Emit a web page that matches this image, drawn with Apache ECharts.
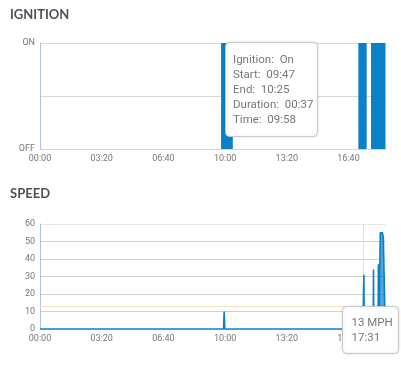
<!DOCTYPE html>
<html>
<head>
<meta charset="utf-8">
<script src="https://cdn.jsdelivr.net/npm/echarts@6/dist/echarts.min.js"></script>
<style>
html,body{margin:0;padding:0;background:#fff;}
#main{width:401px;height:366px;}
</style>
</head>
<body>
<div id="main"></div>
<script>
// ---- data (x values are minutes since 00:00) ----
const xMin = 0;
const xMax = 1120;           // 18:40
const xInterval = 200;       // 03:20 steps
const ignitionStarts = [587, 1032, 1073];
const ignitionEnds   = [625, 1059, 1120];
const ignitionLabels = ['OFF', 'ON'];
const speedTimes  = [0, 595, 597, 599, 1046, 1048, 1049, 1050, 1051, 1080, 1081, 1082, 1096, 1097, 1099, 1101, 1103, 1107, 1110, 1113, 1117, 1119, 1120];
const speedValues = [0, 0,   10,  0,   0,    13,   24,   31,   0,    0,    34,   0,    0,    37,   0,    0,    55,   56,   55,   52,   52,   0,    0];
const speedTicks = [0, 10, 20, 30, 40, 50, 60];
const cursorTime = 1049;
const cursorSpeed = 13;
const ignitionTip = ['Ignition:  On', 'Start:  09:47', 'End:  10:25', 'Duration:  00:37', 'Time:  09:58'];
const speedTip = ['13 MPH', '17:31'];

const BLUE = '#0a80c9';
const pad = n => (n < 10 ? '0' : '') + n;
const fmt = m => pad(Math.floor(m / 60)) + ':' + pad(Math.round(m % 60));

const chart = echarts.init(document.getElementById('main'), null, {renderer: 'canvas'});

const axisLabelStyle = {color: '#777', fontSize: 9, fontFamily: 'Roboto'};

function xAxisFor(gridIndex) {
  return {
    type: 'value', gridIndex, min: xMin, max: xMax, interval: xInterval,
    axisLine: {show: true, lineStyle: {color: gridIndex === 0 ? '#ccd6eb' : '#a9c2e3', width: 1}},
    axisTick: {show: false},
    splitLine: {show: false},
    axisLabel: Object.assign({formatter: v => fmt(v), margin: 5, showMaxLabel: false}, axisLabelStyle)
  };
}

const ignitionData = ignitionStarts.map((s, i) => [s, ignitionEnds[i]]);
const speedData = speedTimes.map((t, i) => [t, speedValues[i]]);

function tipBox(x, y, w, h, lines, tx, ty, lh) {
  const els = [{type: 'rect', z: 100, zlevel: 1, shape: {x, y, width: w, height: h, r: 4},
    style: {fill: '#fff', stroke: '#c9c9c9', lineWidth: 1, shadowBlur: 3, shadowColor: 'rgba(0,0,0,0.12)'}}];
  lines.forEach((t, i) => els.push({
    type: 'text', z: 101, zlevel: 1, x: tx, y: ty + lh * i,
    style: {text: t, fill: '#777', font: '11.5px Roboto', verticalAlign: 'middle'}
  }));
  return els;
}

const option = {
  animation: false,
  title: [
    {text: 'IGNITION', left: 5, top: 3, textStyle: {fontFamily: 'Lato', fontWeight: 'bold', fontSize: 13, color: '#4a535c'}},
    {text: 'SPEED', left: 5, top: 182, textStyle: {fontFamily: 'Lato', fontWeight: 'bold', fontSize: 13, color: '#4a535c'}}
  ],
  grid: [
    {left: 40, right: 15.5, top: 43, height: 106},
    {left: 40, right: 15.5, top: 224, height: 105}
  ],
  xAxis: [xAxisFor(0), xAxisFor(1)],
  yAxis: [
    {
      type: 'value', gridIndex: 0, min: 0, max: 1, interval: 0.5,
      axisLine: {show: true, lineStyle: {color: '#a9c2e3'}},
      axisTick: {show: false},
      splitLine: {show: true, lineStyle: {color: '#d3d8e0'}},
      axisLabel: Object.assign({margin: 5, formatter: v => v === 1 ? ignitionLabels[1] : (v === 0 ? ignitionLabels[0] : '')}, axisLabelStyle)
    },
    {
      type: 'value', gridIndex: 1, min: speedTicks[0], max: speedTicks[speedTicks.length - 1], interval: 10,
      axisLine: {show: true, lineStyle: {color: '#a9c2e3'}},
      axisTick: {show: false},
      splitLine: {show: true, lineStyle: {color: ['#cfcfcf', '#cfcfcf', '#cfcfcf', '#cfcfcf', '#cfcfcf', '#cfcfcf', '#e6e6e6']}},
      axisLabel: Object.assign({margin: 5}, axisLabelStyle)
    }
  ],
  series: [
    {
      type: 'custom', xAxisIndex: 0, yAxisIndex: 0,
      data: ignitionData,
      encode: {x: [0, 1]},
      renderItem: function (params, api) {
        const p0 = api.coord([api.value(0), 1]);
        const p1 = api.coord([api.value(1), 0]);
        return {type: 'rect', shape: {x: p0[0], y: p0[1], width: p1[0] - p0[0], height: p1[1] - p0[1]}, style: {fill: BLUE}};
      }
    },
    {
      type: 'line', xAxisIndex: 1, yAxisIndex: 1,
      data: speedData, showSymbol: false, symbol: 'none',
      lineStyle: {color: BLUE, width: 1.6},
      areaStyle: {color: BLUE, opacity: 0.7},
      z: 3,
      markLine: {
        silent: true, symbol: 'none', label: {show: false},
        lineStyle: {color: '#fbdcbc', width: 1, type: 'solid'},
        data: [{xAxis: cursorTime}, {yAxis: cursorSpeed}],
        z: 2
      }
    }
  ],
  graphic: tipBox(225.5, 42.5, 92, 94, ignitionTip, 233, 60, 15)
    .concat(tipBox(342.5, 306.5, 56, 47, speedTip, 351.5, 323.5, 14.5))
};

chart.setOption(option);
</script>
</body>
</html>
